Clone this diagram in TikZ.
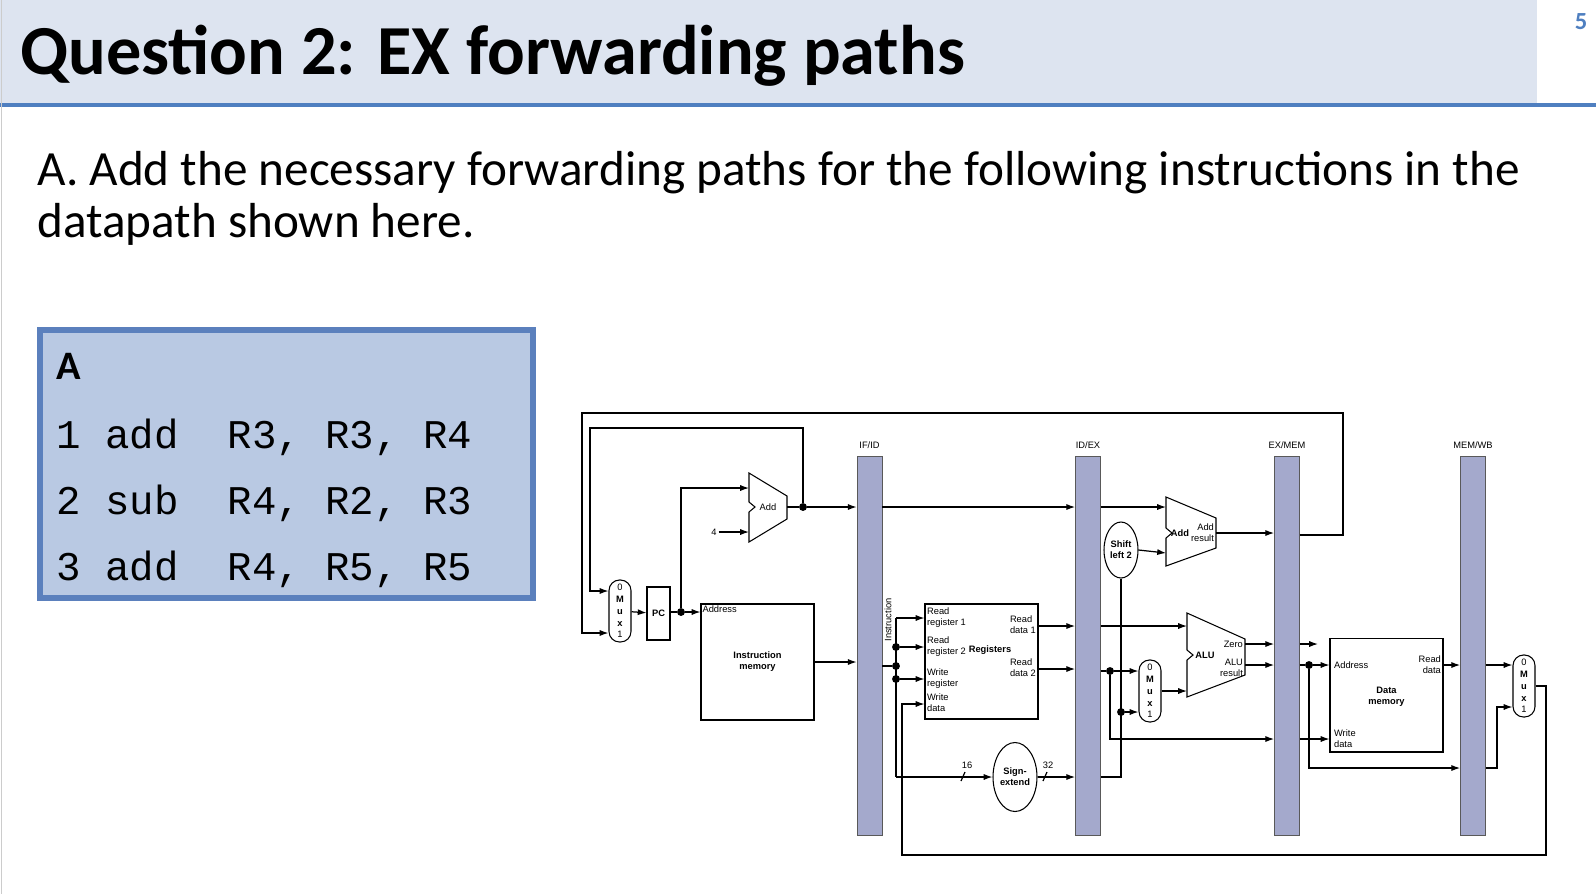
\documentclass[tikz,border=0pt]{standalone}
\usepackage{fontspec}
\setmainfont{Carlito}
\newfontfamily\dpf{Liberation Sans}
\newfontfamily\codef{Liberation Mono}
\usetikzlibrary{arrows.meta,positioning,shapes.geometric}
\definecolor{titlebg}{HTML}{DDE4F0}
\definecolor{slideblue}{HTML}{4F7FC0}
\definecolor{boxfill}{HTML}{B9C9E3}
\definecolor{boxline}{HTML}{5B80BD}
\definecolor{pipe}{HTML}{A4A9CC}
\newcommand{\tinyf}{\dpf\fontsize{5.3}{6.2}\selectfont}
\newcommand{\codeline}{\codef\fontsize{23.2}{28}\selectfont}
\tikzset{
  wire/.style={line width=0.7pt},
  arr/.style={wire,-{Latex[length=5pt,width=3.5pt]}},
  dot/.style={circle,fill,inner sep=0pt,minimum size=4.5pt},
  bar/.style={draw=gray!70!black,fill=pipe,minimum width=0.5cm,minimum height=7.58cm,inner sep=0pt},
  blk/.style={draw,line width=0.6pt,inner sep=0pt},
  lbl/.style={font=\tinyf,inner sep=1pt,align=left},
  blbl/.style={font=\tinyf\bfseries,inner sep=1pt,align=center},
  mux/.style={draw,line width=0.6pt,rounded corners=0.21cm,inner sep=0pt,
    minimum width=0.44cm,minimum height=1.24cm,font=\tinyf,align=center},
  oval/.style={draw,line width=0.6pt,ellipse,inner sep=0pt,font=\tinyf\bfseries,align=center},
}
\newcommand{\muxtext}{0\\[0.5pt]\textbf{M}\\[0.5pt]\textbf{u}\\[0.5pt]\textbf{x}\\[0.5pt]1}
\begin{document}
\begin{tikzpicture}[x=0.02cm,y=-0.02cm]
  \useasboundingbox (0,0) rectangle (1596,894);
  % slide frame
  \fill[titlebg] (0,0) rectangle (1537,104);
  \draw[slideblue,line width=2pt] (0,105) -- (1596,105);
  \draw[gray!40] (1,0) -- (1,894);
  \node[anchor=west,font=\bfseries\fontsize{40}{48}\selectfont] (title) at (14,56) {Question 2: EX forwarding paths};
  \node[text=slideblue,font=\bfseries\fontsize{14}{16}\selectfont] (pageno) at (1581,22) {5};
  \node[anchor=base west,font=\fontsize{28}{32}\selectfont,inner sep=0pt] (task1) at (37,185)
    {A. Add the necessary forwarding paths for the following instructions in the};
  \node[anchor=base west,font=\fontsize{28}{32}\selectfont,inner sep=0pt] (task2) at (37,237)
    {datapath shown here.};
  % instruction box
  \draw[boxline,line width=3.3pt,fill=boxfill] (40,330) rectangle (533,598);
  \node[anchor=base west,inner sep=0pt,font=\bfseries\fontsize{23}{28}\selectfont] (boxhead) at (56,379) {A};
  \node[anchor=base west,inner sep=0pt,font=\codeline] (ins1) at (56,448) {1~add~~R3,~R3,~R4};
  \node[anchor=base west,inner sep=0pt,font=\codeline] (ins2) at (56,514) {2~sub~~R4,~R2,~R3};
  \node[anchor=base west,inner sep=0pt,font=\codeline] (ins3) at (56,580) {3~add~~R4,~R5,~R5};
  % pipeline registers
  \node[bar] (ifid)  at (869.5,645.5) {};
  \node[bar] (idex)  at (1088,645.5) {};
  \node[bar] (exmem) at (1287,645.5) {};
  \node[bar] (memwb) at (1473,645.5) {};
  \node[lbl] at (869.5,445) {IF/ID};
  \node[lbl] at (1088,445) {ID/EX};
  \node[lbl] at (1287,445) {EX/MEM};
  \node[lbl] at (1473,445) {MEM/WB};
  % IF stage
  \node[mux] (pcmux) at (620,611) {\muxtext};
  \node[blk,minimum width=0.46cm,minimum height=1.06cm,font=\tinyf\bfseries] (pc) at (658.5,613.5) {PC};
  \node[blk,minimum width=2.26cm,minimum height=2.32cm] (imem) at (757.5,662) {};
  \node[lbl,anchor=north west] at (imem.north west) {Address};
  \node[blbl] at (757.5,662) {Instruction\\memory};
  \draw[blk,line width=0.6pt] (749,473) -- (787,496) -- (787,519) -- (749,542) -- (749,512) -- (755,507) -- (749,502) -- cycle;
  \node[lbl] at (768,507) {Add};
  \node[lbl] (four) at (714,532) {4};
  \node[dot] (pcdot) at (681,612) {};
  \node[dot] (adddot) at (803,507) {};
  \coordinate (adda) at (749,488);
  \coordinate (addb) at (749,532);
  \coordinate (addo) at (787,507);
  % ID stage
  \node[blk,minimum width=2.26cm,minimum height=2.3cm] (regs) at (981.5,661.5) {};
  \node[lbl,anchor=north west] (rr1) at (925,606) {Read\\register 1};
  \node[lbl,anchor=north west] (rr2) at (925,635) {Read\\register 2};
  \node[lbl,anchor=north west] (wr) at (925,667) {Write\\register};
  \node[lbl,anchor=north west] (wd) at (925,692) {Write\\data};
  \node[lbl,anchor=north east] (rd1) at (1038,614) {Read\\data 1};
  \node[lbl,anchor=north east] (rd2) at (1038,657) {Read\\data 2};
  \node[blbl] at (990,650) {Registers};
  \node[lbl,rotate=90] at (888,620) {Instruction};
  \node[oval,minimum width=0.88cm,minimum height=1.38cm] (sext) at (1015,777) {Sign-\\extend};
  \node[dot] (ins) at (896,666) {};
  \node[dot] (insb) at (896,647) {};
  \node[dot] (insc) at (896,679) {};
  \coordinate (instop) at (896,618);
  \coordinate (insbot) at (896,777);
  \node[lbl] at (967,765) {16};
  \node[lbl] at (1048,765) {32};
  % EX stage
  \node[oval,minimum width=0.68cm,minimum height=1.12cm] (shl) at (1121,550) {Shift\\left 2};
  \draw[blk,line width=0.6pt] (1166,497) -- (1216,518) -- (1216,548) -- (1166,566) -- (1166,538) -- (1172,533) -- (1166,528) -- cycle;
  \node[blbl] at (1180,533) {Add};
  \node[lbl,anchor=east,align=right] at (1216,533) {Add\\result};
  \draw[blk,line width=0.6pt] (1187,613) -- (1245,639) -- (1245,675) -- (1187,697) -- (1187,660) -- (1193,655) -- (1187,650) -- cycle;
  \node[blbl] at (1205,655) {ALU};
  \node[lbl,anchor=east] at (1245,644) {Zero};
  \node[lbl,anchor=east,align=right] at (1245,668) {ALU\\result};
  \node[mux] (alumux) at (1150,691) {\muxtext};
  \node[dot] (rd2dot) at (1110,671) {};
  \node[dot] (immdot) at (1121,712) {};
  % MEM and WB stages
  \node[blk,minimum width=2.26cm,minimum height=2.28cm] (dmem) at (1386.5,695) {};
  \node[lbl,anchor=west] at (1332,665) {Address};
  \node[lbl,anchor=east,align=right] at (1443,665) {Read\\data};
  \node[lbl,anchor=west] at (1332,739) {Write\\data};
  \node[blbl] at (1386.5,697) {Data\\memory};
  \node[dot] (aludot) at (1309,665) {};
  \node[mux] (wbmux) at (1524,686) {\muxtext};
  % IF wires
  \draw[arr] (pcmux) -- (pc);
  \draw[wire] (pc.east |- pcdot) -- (pcdot);
  \draw[arr] (pcdot) -- (imem.west |- pcdot);
  \draw[arr] (pcdot) |- (adda);
  \draw[arr] (four) -- (addb);
  \draw[wire] (addo) -- (adddot);
  \draw[arr] (adddot) -- (adddot -| ifid.west);
  \draw[arr] (adddot) |- (590,428) |- (pcmux.west |- 0,591);
  \draw[arr] (exmem.east |- 0,535) -| (1343,413) -| (582,633) -- (pcmux.west |- 0,633);
  \draw[arr] (imem.east |- 0,662) -- (ifid.west |- 0,662);
  % ID wires
  \draw[arr] (ifid.east |- adddot) -- (idex.west |- adddot);
  \draw[wire] (ifid.east |- ins) -- (ins);
  \draw[wire] (instop) -- (insbot);
  \draw[arr] (instop) -- (regs.west |- instop);
  \draw[arr] (insb) -- (regs.west |- insb);
  \draw[arr] (insc) -- (regs.west |- insc);
  \draw[arr] (insbot) -- (sext.west);
  \draw[wire] (961,781) -- (965,772);
  \draw[arr] (sext.east) -- (sext.east -| idex.west);
  \draw[wire] (1043,781) -- (1047,772);
  \draw[arr] (regs.east |- 0,626) -- (idex.west |- 0,626);
  \draw[arr] (regs.east |- 0,669) -- (idex.west |- 0,669);
  \draw[arr] (wbmux.east) -| (1546,855) -| (902,704) -- (regs.west |- 0,704);
  % EX wires
  \draw[arr] (idex.east |- adddot) -- (1166,507);
  \draw[arr] (shl.east) -- (1166,553);
  \draw[wire] (shl.south) |- (idex.east |- 0,777);
  \draw[arr] (immdot) -- (alumux.west |- immdot);
  \draw[arr] (idex.east |- 0,626) -- (1187,626);
  \draw[wire] (idex.east |- rd2dot) -- (rd2dot);
  \draw[arr] (rd2dot) -- (alumux.west |- rd2dot);
  \draw[arr] (rd2dot) |- (exmem.west |- 0,739);
  \draw[arr] (alumux.east) -- (1187,691);
  \draw[arr] (1216,533) -- (exmem.west |- 0,533);
  \draw[arr] (1245,644) -- (exmem.west |- 0,644);
  \draw[arr] (1245,665) -- (exmem.west |- 0,665);
  % MEM / WB wires
  \draw[arr] (exmem.east |- 0,644) -- (1318,644);
  \draw[wire] (exmem.east |- aludot) -- (aludot);
  \draw[arr] (aludot) -- (dmem.west |- aludot);
  \draw[arr] (aludot) |- (memwb.west |- 0,768);
  \draw[arr] (exmem.east |- 0,739) -- (dmem.west |- 0,739);
  \draw[arr] (dmem.east |- 0,665) -- (memwb.west |- 0,665);
  \draw[arr] (memwb.east |- 0,665) -- (wbmux.west |- 0,665);
  \draw[arr] (memwb.east |- 0,768) -| (1497,707) -- (wbmux.west |- 0,707);
\end{tikzpicture}
\end{document}
